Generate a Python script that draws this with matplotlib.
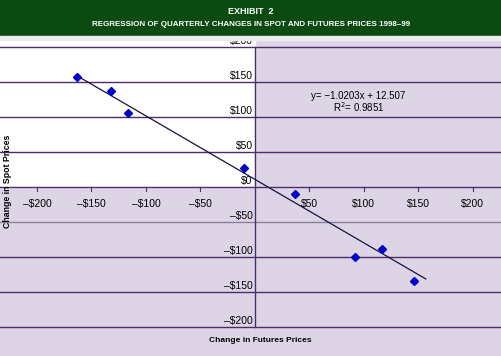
import matplotlib.pyplot as plt
from matplotlib.patches import Rectangle

plt.rcParams['font.family'] = ['Liberation Sans', 'DejaVu Sans']

# data
futures_change = [-163, -132, -116, -10, 37, 92, 117, 146]
spot_change = [157, 137, 106, 27, -10, -99, -89, -134]
trend_x = [-160, 157]
trend_y = [156, -131]
ticks = [-200, -150, -100, -50, 50, 100, 150, 200]
y_ticks = [200, 150, 100, 50, 0, -50, -100, -150, -200]

lavender = '#ddd5e6'
grid_col = '#4b2d6e'

fig = plt.figure(figsize=(5.02, 3.56), dpi=100, facecolor=lavender)

# title banner
fig.patches.append(Rectangle((0, 1 - 36 / 356), 1, 36 / 356, transform=fig.transFigure,
                             color='#0b4a10', zorder=0))
fig.patches.append(Rectangle((0, 1 - 40 / 356), 1, 4 / 356, transform=fig.transFigure,
                             color='#ececec', zorder=0))
fig.text(0.5, 1 - 12 / 356, 'EXHIBIT  2', color='white', ha='center', va='center',
         fontsize=6.5, fontweight='bold')
fig.text(0.5, 1 - 25 / 356, 'REGRESSION OF QUARTERLY CHANGES IN SPOT AND FUTURES PRICES 1998\u201399',
         color='white', ha='center', va='center', fontsize=5.8, fontweight='bold')

ax = fig.add_axes([0, 0, 1, 1 - 40 / 356])
ax.set_facecolor(lavender)
ax.set_xlim(-234, 227)
ax.set_ylim(-241, 210)
for s in ax.spines.values():
    s.set_visible(False)
ax.set_xticks([])
ax.set_yticks([])

# white upper-left quadrant
ax.add_patch(Rectangle((-300, 0), 300, 300, color='white', zorder=0))

# horizontal grid lines
for v in y_ticks:
    ax.axhline(v, color=grid_col if v != -50 else '#8a7f99', lw=1, zorder=1)
    lab = ('$%d' % v) if v >= 0 else ('\u2013$%d' % -v)
    ax.text(-2, v + 2, lab, ha='right', va='bottom', fontsize=7.5, color='black')

# vertical axis
ax.plot([0, 0], [-200, 200], color=grid_col, lw=1, zorder=1)

# x ticks along zero line
for t in ticks:
    ax.plot([t, t], [0, -5], color=grid_col, lw=0.8, zorder=1)
    lab = ('$%d' % t) if t > 0 else ('\u2013$%d' % -t)
    ax.text(t, -24, lab, ha='center', va='center', fontsize=7.5, color='black')

ax.plot(trend_x, trend_y, color='#1a1040', lw=0.9, zorder=2)
ax.plot(futures_change, spot_change, 'D', color='#0000c8', markersize=4, zorder=3)

ax.text(95, 130, 'y= \u22121.0203x + 12.507', ha='center', va='center', fontsize=7)
ax.text(95, 114, 'R$^2$= 0.9851', ha='center', va='center', fontsize=7)

fig.text(8 / 502, 1 - 181 / 356, 'Change in Spot Prices', rotation=90, ha='center',
         va='center', fontsize=6.3, fontweight='bold')
fig.text(260 / 502, 1 - 340 / 356, 'Change in Futures Prices', ha='center', va='center',
         fontsize=6, fontweight='bold')

fig.savefig('out.png', dpi=100, facecolor=lavender)
